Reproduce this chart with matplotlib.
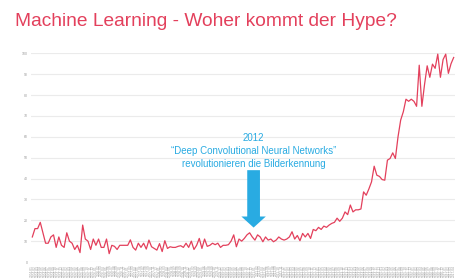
import numpy as np
import pandas as pd
import matplotlib
matplotlib.use("Agg")
import matplotlib.pyplot as plt
from matplotlib.patches import FancyArrow

plt.rcParams["font.family"] = ["Liberation Sans", "DejaVu Sans"]

TITLE = "Machine Learning - Woher kommt der Hype?"
NOTE = "2012\n\u201cDeep Convolutional Neural Networks\u201d\nrevolutionieren die Bilderkennung"
RED = "#e3405c"
BLUE = "#29abe2"
GRID = "#ebebeb"

# Suchinteresse pro Monat (Google Trends, 0-100)
interest = [
    12, 16, 16, 19, 14, 9, 9, 12, 13, 7,
    12, 8, 7, 14, 10, 9, 6, 8, 4.5, 17.7,
    11, 10, 6, 11, 8, 11, 7, 7, 11, 4,
    8, 7.5, 6, 8, 8, 8, 8, 10.6, 7, 5.7,
    9, 7, 9, 6.2, 10.5, 7.3, 6.5, 5.7, 8.8, 5,
    10.2, 6.5, 7.3, 7, 7, 7.5, 7.8, 7, 9, 7,
    10, 6, 8, 11.3, 6.5, 11, 7.5, 8, 9, 8.3,
    9, 7, 8, 8, 8.3, 10, 13, 7.3, 11, 10,
    11.3, 13, 14, 12, 10.5, 13, 12, 9.7, 12, 10.5,
    11, 9.7, 10.5, 12, 11, 10.5, 11, 12, 14.5, 11,
    12.7, 10.2, 13.7, 12, 13.7, 11.3, 15.6, 15, 16.6, 15.6,
    17.2, 16.6, 17.7, 18.5, 19, 21, 19.5, 21, 24, 22.7,
    27.3, 24, 25, 25, 25.4, 33.6, 32, 35, 38.4, 45.9,
    41.6, 41, 39.5, 39.2, 48.8, 49.6, 52.3, 49.6, 60, 68,
    72, 78, 77, 78, 77, 74.6, 94.3, 74.6, 85, 94,
    88.5, 94.8, 92.8, 99.6, 88.5, 97, 99.6, 90.4, 95, 98,
]
months = pd.date_range("2004-01-01", periods=len(interest), freq="MS").strftime("%Y-%m").tolist()
y_ticks = [0, 10, 20, 30, 40, 50, 60, 70, 80, 90, 100]

fig = plt.figure(figsize=(4.74, 2.8), dpi=100)
fig.text(15 / 474, 1 - 22 / 280, TITLE, color=RED, fontsize=13.8,
         ha="left", va="center")

ax = fig.add_axes([31 / 474, 18 / 280, 424 / 474, 208.7 / 280])
x = np.arange(len(interest))
ax.plot(x, interest, color=RED, lw=0.9)
ax.set_xlim(-0.5, len(interest) - 0.5)
ax.set_ylim(0, 100)
ax.set_yticks(y_ticks)
ax.set_yticklabels([str(v) for v in y_ticks], fontsize=2.5, color="#999999")
ax.set_xticks(x)
ax.set_xticklabels(months, rotation=90, fontsize=2.3, color="#999999")
ax.tick_params(length=0, pad=2)
ax.grid(axis="y", color=GRID, lw=0.8)
ax.set_axisbelow(True)
for s in ax.spines.values():
    s.set_visible(False)

# Pfeil + Beschriftung (Position in Monatsindex / Wertachse)
arrow_month = 83.5
ax.text(arrow_month, 53.3, NOTE, color=BLUE, fontsize=7.0, ha="center",
        va="center", linespacing=1.4)
ax.add_patch(FancyArrow(arrow_month, 44, 0, -27.5, width=4.8, head_width=9.2,
                        head_length=5.3, length_includes_head=True,
                        color=BLUE, lw=0))

fig.savefig("out.png", dpi=100)
